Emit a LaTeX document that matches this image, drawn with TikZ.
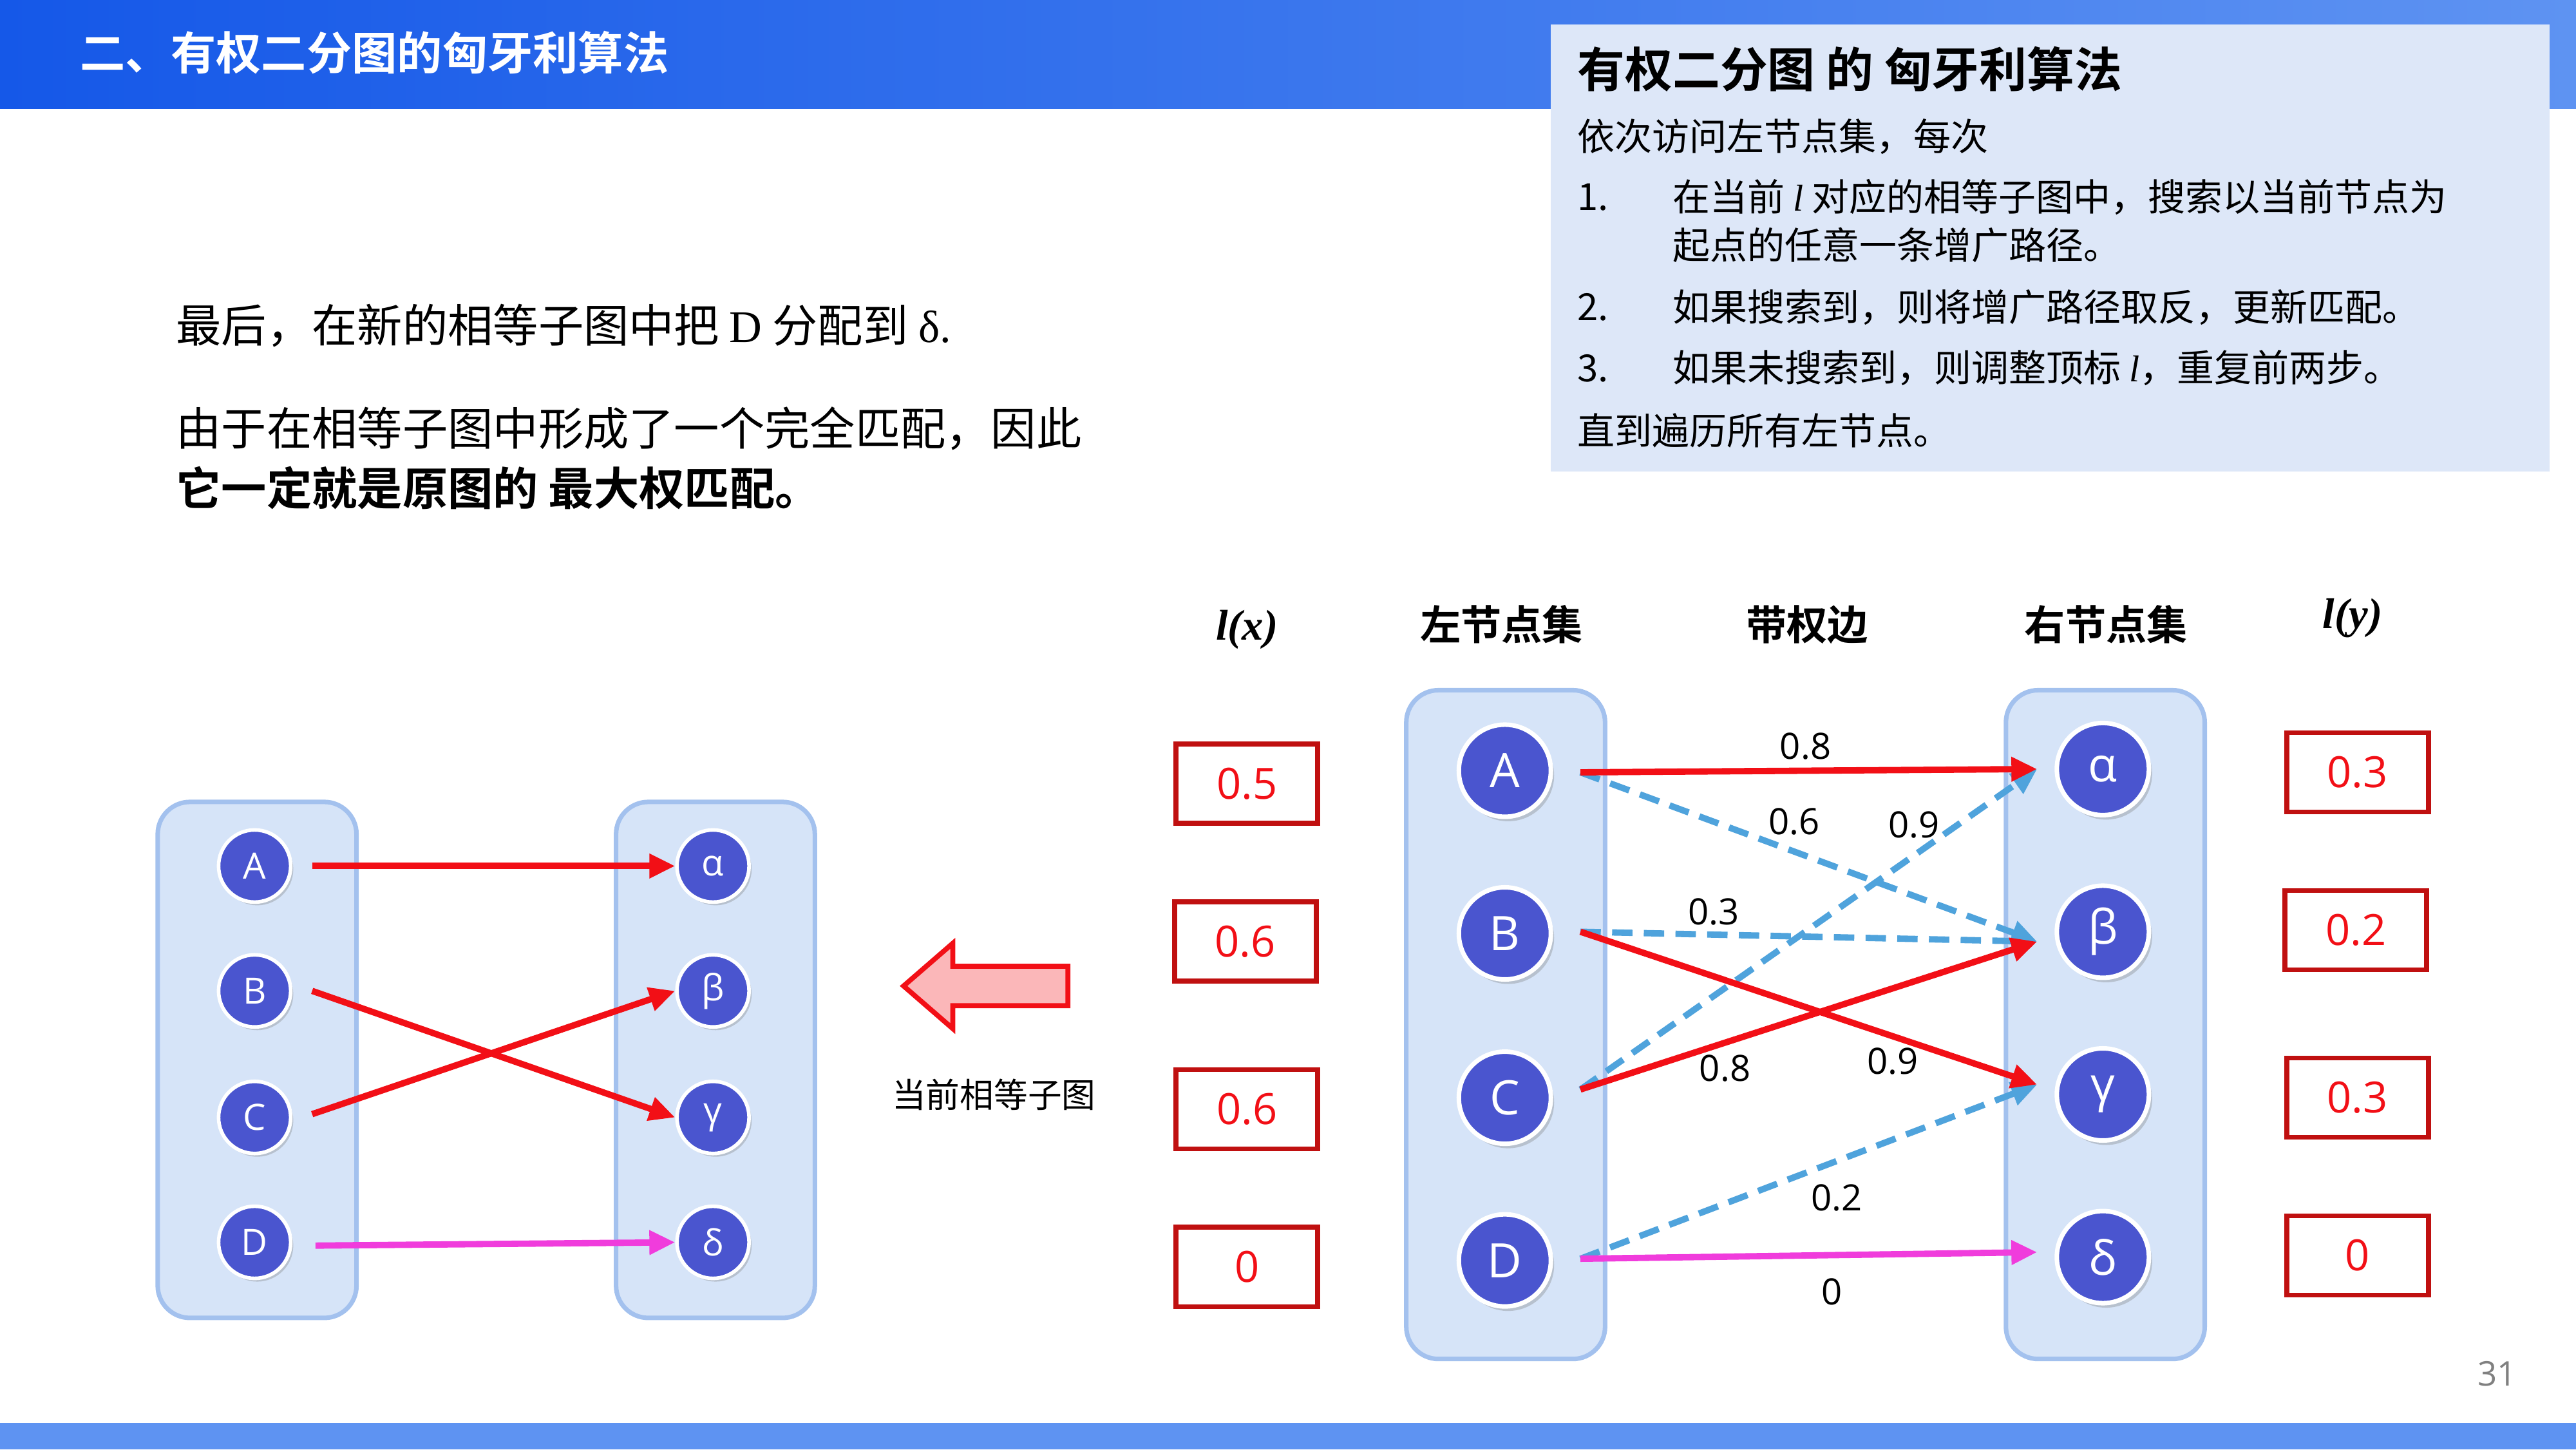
\documentclass[tikz,border=0pt]{standalone}
\usepackage{fontspec}
\setmainfont{Noto Sans CJK SC}[BoldFont={Noto Sans CJK SC Bold}]
\newfontfamily\lat{Open Sans}
\newfontfamily\ser{Liberation Serif}
\usetikzlibrary{arrows.meta,shadows}
\definecolor{hdrA}{HTML}{1558E8}
\definecolor{hdrB}{HTML}{5E93F2}
\definecolor{boxbg}{HTML}{DDE7F8}
\definecolor{setbg}{HTML}{D6E4F8}
\definecolor{setbd}{HTML}{A3C1EE}
\definecolor{nodec}{HTML}{4A55CF}
\definecolor{redl}{HTML}{F20F16}
\definecolor{bluel}{HTML}{4FA3DC}
\definecolor{magl}{HTML}{F03CDC}
\definecolor{boxr}{HTML}{C01010}
\tikzset{
 setrect/.style={draw=setbd,fill=setbg,line width=2pt,rounded corners=5mm},
 vbig/.style={circle,fill=nodec,draw=white,line width=2pt,minimum size=14.3mm,inner sep=0pt,text=white,font=\lat\fontsize{21}{21}\selectfont,drop shadow={opacity=0.35,shadow xshift=0.5mm,shadow yshift=-0.7mm}},
 vsm/.style={circle,fill=nodec,draw=white,line width=1.6pt,minimum size=11.2mm,inner sep=0pt,text=white,font=\lat\fontsize{16}{16}\selectfont,drop shadow={opacity=0.35,shadow xshift=0.4mm,shadow yshift=-0.5mm}},
 lbox/.style={draw=boxr,line width=2.2pt,minimum width=22mm,minimum height=12.3mm,text=redl,font=\lat\fontsize{19}{19}\selectfont},
 redE/.style={draw=redl,line width=2.8pt,-{Triangle[length=4mm,width=3.6mm]}},
 magE/.style={draw=magl,line width=2.8pt,-{Triangle[length=4mm,width=3.6mm]}},
 bluE/.style={draw=bluel,line width=2.8pt,dash pattern=on 9pt off 5pt,-{Triangle[length=4mm,width=3.6mm]}},
 elab/.style={font=\lat\fontsize{16}{16}\selectfont,inner sep=1pt},
 hdr/.style={font=\bfseries\fontsize{18}{18}\selectfont},
 body/.style={font=\fontsize{16.5}{24}\selectfont,anchor=west,inner sep=0pt}
}
\begin{document}
\begin{tikzpicture}[x=0.2551mm,y=-0.2551mm]
\useasboundingbox (0,0) rectangle (1568,882);
\fill[white] (0,0) rectangle (1568,882);
% banner
\shade[left color=hdrA,right color=hdrB] (0,0) rectangle (1568,66);
\fill[hdrB] (0,866) rectangle (1568,882);
\node[anchor=west,text=white,font=\bfseries\fontsize{20}{20}\selectfont] (title) at (44,32) {二、有权二分图的匈牙利算法};
% right box
\fill[boxbg] (944,15) rectangle (1552,287);
\node[anchor=west,font=\bfseries\fontsize{21}{21}\selectfont,inner sep=0pt] (bt) at (960,42) {有权二分图 的 匈牙利算法};
\node[body] (b1) at (960,83) {依次访问左节点集，每次};
\node[body] (b2) at (960,120) {1.};
\node[body] (b2t) at (1018,120) {在当前 {\ser\itshape l} 对应的相等子图中，搜索以当前节点为};
\node[body] (b2u) at (1018,149) {起点的任意一条增广路径。};
\node[body] (b3) at (960,187) {2.};
\node[body] (b3t) at (1018,187) {如果搜索到，则将增广路径取反，更新匹配。};
\node[body] (b4) at (960,224) {3.};
\node[body] (b4t) at (1018,224) {如果未搜索到，则调整顶标 {\ser\itshape l}，重复前两步。};
\node[body] (b5) at (960,262) {直到遍历所有左节点。};
% left text
\node[anchor=west,inner sep=0pt,font=\fontsize{20}{20}\selectfont] (t1) at (107,198) {最后，在新的相等子图中把 {\ser D} 分配到 {\ser δ.}};
\node[anchor=west,inner sep=0pt,font=\fontsize{20}{20}\selectfont] (t2) at (107,261) {由于在相等子图中形成了一个完全匹配，因此};
\node[anchor=west,inner sep=0pt,font=\bfseries\fontsize{20}{20}\selectfont] (t3) at (107,297) {它一定就是原图的 最大权匹配。};
% left graph
\draw[setrect] (96,488) rectangle (217,802);
\draw[setrect] (375,488) rectangle (496,802);
\node[vsm] (lA) at (155,527) {A};
\node[vsm] (lB) at (155,603) {B};
\node[vsm] (lC) at (155,680) {C};
\node[vsm] (lD) at (155,756) {D};
\node[vsm] (la) at (434,527) {α};
\node[vsm] (lb) at (434,603) {β};
\node[vsm] (lc) at (434,680) {γ};
\node[vsm] (ld) at (434,756) {δ};
\draw[redE] (190,527) -- (la.west);
\draw[redE] (190,603) -- (lc.west);
\draw[redE] (190,678) -- (lb.west);
\draw[magE] (192,758) -- (ld.west);
% big arrow
\draw[draw=redl,fill=redl!30,line width=2.2pt] (650,588) -- (580,588) -- (580,574) -- (550,600) -- (580,626) -- (580,612) -- (650,612) -- cycle;
\node[font=\fontsize{15}{15}\selectfont] (cur) at (605,666) {当前相等子图};
% headers
\node[font=\ser\bfseries\itshape\fontsize{19}{19}\selectfont] (hlx) at (759,383) {l(x)};
\node[hdr] (hL) at (914,380) {左节点集};
\node[hdr] (hE) at (1100,380) {带权边};
\node[hdr] (hR) at (1282,380) {右节点集};
\node[font=\ser\bfseries\itshape\fontsize{19}{19}\selectfont] (hly) at (1432,376) {l(y)};
% value boxes
\node[lbox] (x1) at (759,477) {0.5};
\node[lbox] (x2) at (758,573) {0.6};
\node[lbox] (x3) at (759,675) {0.6};
\node[lbox] (x4) at (759,771) {0};
\node[lbox] (y1) at (1435,470) {0.3};
\node[lbox] (y2) at (1434,566) {0.2};
\node[lbox] (y3) at (1435,668) {0.3};
\node[lbox] (y4) at (1435,764) {0};
% right graph
\draw[setrect] (856,420) rectangle (977,827);
\draw[setrect] (1221,420) rectangle (1342,827);
\node[vbig] (A) at (916,469) {A};
\node[vbig] (B) at (916,568) {B};
\node[vbig] (C) at (916,668) {C};
\node[vbig] (D) at (916,767) {D};
\node[vbig] (a) at (1280,468) {α};
\node[vbig] (b) at (1280,567) {β};
\node[vbig] (c) at (1280,666) {γ};
\node[vbig] (d) at (1280,765) {δ};
\coordinate (As) at (962,470);
\coordinate (Bs) at (962,567);
\coordinate (Cs) at (962,663);
\coordinate (Ds) at (962,766);
\coordinate (ae) at (1240,468);
\coordinate (be) at (1240,573);
\coordinate (ce) at (1240,660);
\coordinate (de) at (1240,762);
\draw[bluE] (As) -- (be);
\draw[bluE] (Cs) -- (ae);
\draw[bluE] (Bs) -- (be);
\draw[bluE] (Ds) -- (ce);
\draw[redE] (As) -- (ae);
\draw[redE] (Bs) -- (ce);
\draw[redE] (Cs) -- (be);
\draw[magE] (Ds) -- (de);
\node[elab] (w1) at (1099,454) {0.8};
\node[elab] (w2) at (1092,500) {0.6};
\node[elab] (w3) at (1165,502) {0.9};
\node[elab] (w4) at (1043,555) {0.3};
\node[elab] (w5) at (1152,646) {0.9};
\node[elab] (w6) at (1050,650) {0.8};
\node[elab] (w7) at (1118,729) {0.2};
\node[elab] (w8) at (1115,786) {0};
\node[text=gray,font=\lat\fontsize{15}{15}\selectfont] (pg) at (1520,836) {31};
\end{tikzpicture}
\end{document}
